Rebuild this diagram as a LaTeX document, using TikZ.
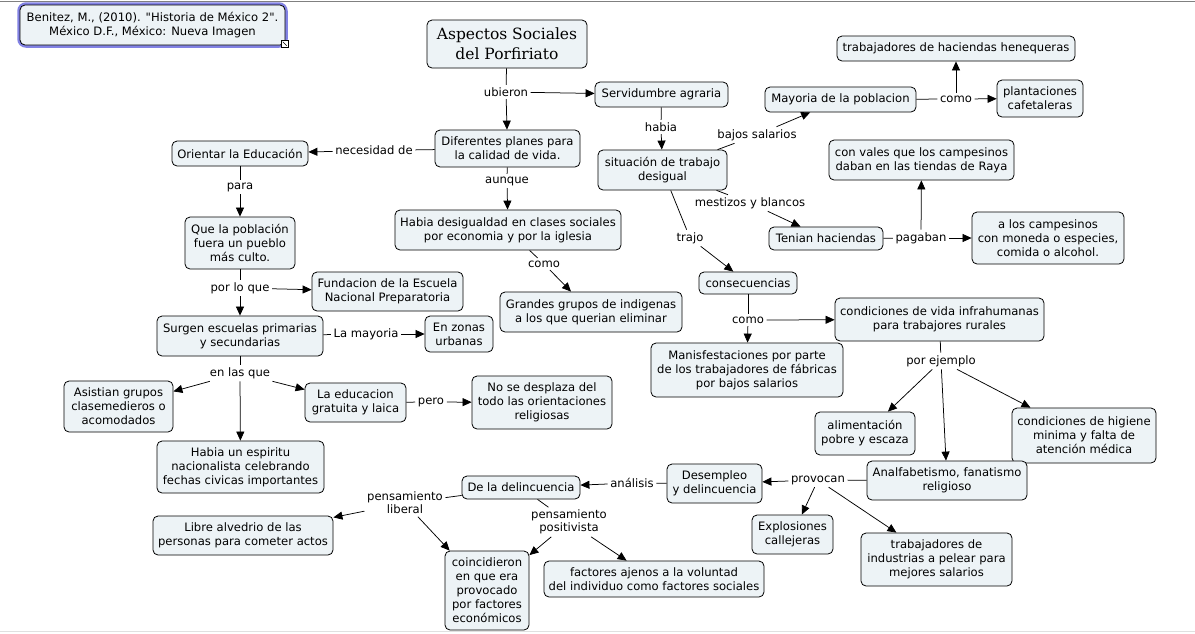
\documentclass[tikz,border=0pt]{standalone}
\usepackage{fontspec}
\setmainfont{DejaVu Sans}[Ligatures=TeXOff]
\newfontfamily\titlefont{DejaVu Serif}
\usetikzlibrary{arrows.meta}
\definecolor{boxfill}{RGB}{237,243,246}
\definecolor{refblue}{RGB}{130,130,228}
\begin{document}
\begin{tikzpicture}[x=1pt,y=-1pt,
  cbox/.style={draw=black,fill=boxfill,rounded corners=5pt,line width=0.8pt,align=center,inner sep=1pt,
    font=\fontsize{11.6}{14}\selectfont},
  lbl/.style={align=center,inner sep=2.5pt,font=\fontsize{11.6}{13}\selectfont},
  con/.style={line width=0.75pt,draw=black},
  arr/.style={con,-{Triangle[length=9pt,width=8pt]}}]
\useasboundingbox (0,0) rectangle (1195,633);
\fill[white] (0,0) rectangle (1195,633);
\draw[gray,line width=1.2pt] (0,1.5) -- (1195,1.5);
\draw[black!12,line width=1pt] (0,631.5) -- (1195,631.5);
% reference box
\draw[refblue,line width=3.5pt,rounded corners=7pt] (19,4) rectangle (286,46);
\node[cbox,minimum width=265pt,minimum height=40pt] (ref) at (152.5,25) {Benitez, M., (2010). "Historia de México 2".\\México D.F., México: Nueva Imagen};
\node[draw=black,fill=white,minimum size=7pt,inner sep=0pt,line width=0.6pt] (icon) at (285,44) {};
\draw[line width=0.5pt] (icon.north west) ++(1.5,1.5) -- ++(4,4);
% concept nodes
\node[cbox,minimum width=160pt,minimum height=48pt,font=\titlefont\fontsize{15.5}{20}\selectfont] (title) at (507,44) {Aspectos Sociales\\del Porfiriato};
\node[cbox,minimum width=133pt,minimum height=25pt] (serv) at (661.5,94.5) {Servidumbre agraria};
\node[cbox,minimum width=145pt,minimum height=37pt] (dif) at (507.5,148.5) {Diferentes planes para\\la calidad de vida.};
\node[cbox,minimum width=136pt,minimum height=25pt] (ori) at (240,153.5) {Orientar la Educación};
\node[cbox,minimum width=110pt,minimum height=52pt] (que) at (240,243) {Que la población\\fuera un pueblo\\más culto.};
\node[cbox,minimum width=151pt,minimum height=39pt] (fund) at (387.5,291.5) {Fundacion de la Escuela\\Nacional Preparatoria};
\node[cbox,minimum width=166pt,minimum height=40pt] (surg) at (240,336) {Surgen escuelas primarias\\y secundarias};
\node[cbox,minimum width=68pt,minimum height=36pt] (zonas) at (459,334) {En zonas\\urbanas};
\node[cbox,minimum width=109pt,minimum height=51pt] (asis) at (118.5,406.5) {Asistian grupos\\clasemedieros o\\acomodados};
\node[cbox,minimum width=101pt,minimum height=39pt] (edu) at (355.5,402.5) {La educacion\\gratuita y laica};
\node[cbox,minimum width=140pt,minimum height=53pt] (nodes) at (542,402.5) {No se desplaza del\\todo las orientaciones\\religiosas};
\node[cbox,minimum width=167pt,minimum height=52pt] (esp) at (240.5,467) {Habia un espiritu\\nacionalista celebrando\\fechas civicas importantes};
\node[cbox,minimum width=226pt,minimum height=40pt] (desig) at (508,230) {Habia desigualdad en clases sociales\\por economia y por la iglesia};
\node[cbox,minimum width=182pt,minimum height=40pt] (grandes) at (591,312) {Grandes grupos de indigenas\\a los que querian eliminar};
\node[cbox,minimum width=129pt,minimum height=40pt] (sit) at (662.5,170) {situación de trabajo\\desigual};
\node[cbox,minimum width=151pt,minimum height=25pt] (may) at (840.5,99.5) {Mayoria de la poblacion};
\node[cbox,minimum width=238pt,minimum height=25pt] (hene) at (956,48.5) {trabajadores de haciendas henequeras};
\node[cbox,minimum width=86pt,minimum height=37pt] (plant) at (1040,98.5) {plantaciones\\cafetaleras};
\node[cbox,minimum width=114pt,minimum height=23pt] (tenian) at (826,238.5) {Tenian haciendas};
\node[cbox,minimum width=185pt,minimum height=40pt] (vales) at (921.5,160) {con vales que los campesinos\\daban en las tiendas de Raya};
\node[cbox,minimum width=152pt,minimum height=52pt] (camp) at (1048,238) {a los campesinos\\con moneda o especies,\\comida o alcohol.};
\node[cbox,minimum width=98pt,minimum height=22pt] (cons) at (748,283) {consecuencias};
\node[cbox,minimum width=192pt,minimum height=54pt] (manif) at (747,370) {Manisfestaciones por parte\\de los trabajadores de fábricas\\por bajos salarios};
\node[cbox,minimum width=209pt,minimum height=43pt] (cvida) at (939.5,319.5) {condiciones de vida infrahumanas\\para trabajores rurales};
\node[cbox,minimum width=100pt,minimum height=43pt] (alim) at (865,433.5) {alimentación\\pobre y escaza};
\node[cbox,minimum width=144pt,minimum height=55pt] (hig) at (1084,435.5) {condiciones de higiene\\minima y falta de\\atención médica};
\node[cbox,minimum width=160pt,minimum height=39pt] (anal) at (947,480.5) {Analfabetismo, fanatismo\\religioso};
\node[cbox,minimum width=95pt,minimum height=39pt] (desem) at (714.5,483.5) {Desempleo\\y delincuencia};
\node[cbox,minimum width=81pt,minimum height=39pt] (explo) at (792.5,534.5) {Explosiones\\callejeras};
\node[cbox,minimum width=151pt,minimum height=53pt] (trabind) at (936.5,559.5) {trabajadores de\\industrias a pelear para\\mejores salarios};
\node[cbox,minimum width=118pt,minimum height=23pt] (delin) at (521,487.5) {De la delincuencia};
\node[cbox,minimum width=180pt,minimum height=39pt] (libre) at (243,535.5) {Libre alvedrio de las\\personas para cometer actos};
\node[cbox,minimum width=84pt,minimum height=79pt] (coinc) at (487,590.5) {coincidieron\\en que era\\provocado\\por factores\\económicos};
\node[cbox,minimum width=220pt,minimum height=36pt] (fact) at (654,579) {factores ajenos a la voluntad\\del individuo como factores sociales};
% linking phrases
\node[lbl] (l-ubieron) at (506,92) {ubieron};
\node[lbl] (l-necesidad) at (374,150.5) {necesidad de};
\node[lbl] (l-para) at (240,187) {para};
\node[lbl] (l-porloque) at (240,288) {por lo que};
\node[lbl] (l-mayoria) at (366,334) {La mayoria};
\node[lbl] (l-enlasque) at (240,373) {en las que};
\node[lbl] (l-pero) at (431,402) {pero};
\node[lbl] (l-aunque) at (507,181) {aunque};
\node[lbl] (l-como1) at (544,264) {como};
\node[lbl] (l-habia) at (661,127) {habia};
\node[lbl] (l-bajos) at (757,135) {bajos salarios};
\node[lbl] (l-como2) at (956,99) {como};
\node[lbl] (l-mestizos) at (750,203) {mestizos y blancos};
\node[lbl] (l-pagaban) at (921,238) {pagaban};
\node[lbl] (l-trajo) at (690,238) {trajo};
\node[lbl] (l-como3) at (748,320) {como};
\node[lbl] (l-ejemplo) at (941,361) {por ejemplo};
\node[lbl] (l-provocan) at (818,480) {provocan};
\node[lbl] (l-analisis) at (632,483) {análisis};
\node[lbl] (l-liberal) at (405,503) {pensamiento\\liberal};
\node[lbl] (l-positivista) at (569,522) {pensamiento\\positivista};
% connectors
\draw[con] (title) -- (l-ubieron);
\draw[arr] (l-ubieron) -- (dif);
\draw[arr] (l-ubieron) -- (serv);
\draw[con] (dif) -- (l-necesidad);
\draw[arr] (l-necesidad) -- (ori);
\draw[con] (ori) -- (l-para);
\draw[arr] (l-para) -- (que);
\draw[con] (que) -- (l-porloque);
\draw[arr] (l-porloque) -- (fund);
\draw[arr] (l-porloque) -- (surg);
\draw[con] (surg) -- (l-mayoria);
\draw[arr] (l-mayoria) -- (zonas);
\draw[con] (surg) -- (l-enlasque);
\draw[arr] (l-enlasque) -- (asis);
\draw[arr] (l-enlasque) -- (edu);
\draw[arr] (l-enlasque) -- (esp);
\draw[con] (edu) -- (l-pero);
\draw[arr] (l-pero) -- (nodes);
\draw[con] (dif) -- (l-aunque);
\draw[arr] (l-aunque) -- (desig);
\draw[con] (desig) -- (l-como1);
\draw[arr] (l-como1) -- (grandes);
\draw[con] (serv) -- (l-habia);
\draw[arr] (l-habia) -- (sit);
\draw[con] (sit) -- (l-bajos);
\draw[arr] (l-bajos) -- (may);
\draw[con] (may) -- (l-como2);
\draw[arr] (l-como2) -- (hene);
\draw[arr] (l-como2) -- (plant);
\draw[con] (sit) -- (l-mestizos);
\draw[arr] (l-mestizos) -- (tenian);
\draw[con] (tenian) -- (l-pagaban);
\draw[arr] (l-pagaban) -- (vales);
\draw[arr] (l-pagaban) -- (camp);
\draw[con] (sit) -- (l-trajo);
\draw[arr] (l-trajo) -- (cons);
\draw[con] (cons) -- (l-como3);
\draw[arr] (l-como3) -- (manif);
\draw[arr] (l-como3) -- (cvida);
\draw[con] (cvida) -- (l-ejemplo);
\draw[arr] (l-ejemplo) -- (alim);
\draw[arr] (l-ejemplo) -- (anal);
\draw[arr] (l-ejemplo) -- (hig);
\draw[con] (anal) -- (l-provocan);
\draw[arr] (l-provocan) -- (desem);
\draw[arr] (l-provocan) -- (explo);
\draw[arr] (l-provocan) -- (trabind);
\draw[con] (desem) -- (l-analisis);
\draw[arr] (l-analisis) -- (delin);
\draw[con] (delin) -- (l-liberal);
\draw[arr] (l-liberal) -- (libre);
\draw[arr] (l-liberal) -- (coinc);
\draw[con] (delin) -- (l-positivista);
\draw[arr] (l-positivista) -- (coinc);
\draw[arr] (l-positivista) -- (fact);
\end{tikzpicture}
\end{document}
